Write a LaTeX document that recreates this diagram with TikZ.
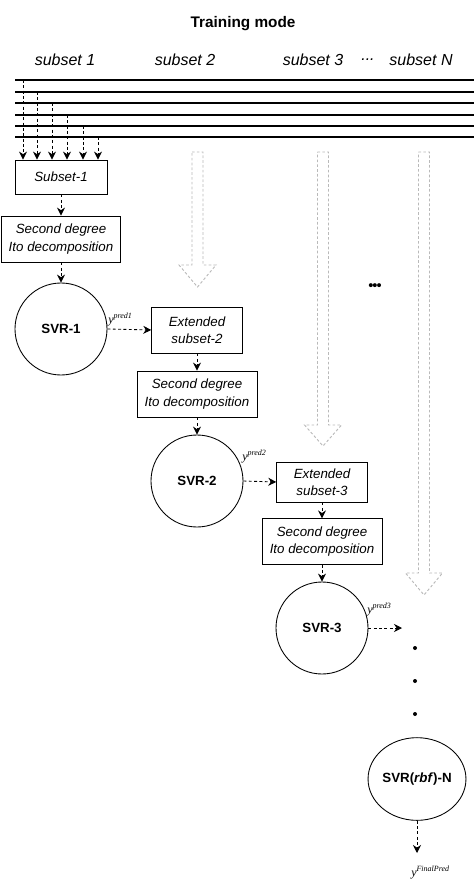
\documentclass[tikz,border=0pt]{standalone}
\usepackage{fontspec}
\setmainfont{Liberation Sans}
\newfontfamily\predfont{Liberation Serif}
\usetikzlibrary{arrows.meta,positioning,shapes.geometric}

\tikzset{
  databox/.style={draw, line width=0.65pt, align=center, inner sep=0pt,
    font=\fontsize{10}{13}\selectfont\itshape},
  svrnode/.style={draw, circle, line width=0.65pt, minimum size=69pt, inner sep=0pt,
    font=\fontsize{10}{12}\selectfont\bfseries},
  flow/.style={line width=0.65pt, dash pattern=on 2.2pt off 1.8pt,
    -{Stealth[length=6pt,width=6pt]}},
  hollow/.style={draw=gray!55, line width=0.7pt, dash pattern=on 2pt off 1.6pt},
  dataline/.style={line width=1.1pt},
  predlabel/.style={inner sep=0pt, font=\fontsize{9}{10}\selectfont\predfont\itshape},
  vdot/.style={circle, fill, inner sep=0pt, minimum size=3pt}
}
\newcommand{\hollowarrow}[4]{%
  \draw[hollow] (#1-5.5,#2) -- (#1+5.5,#2) -- (#1+5.5,#3) -- (#1+18.5,#3)
    -- (#1,#4) -- (#1-18.5,#3) -- (#1-5.5,#3) -- cycle;}

\begin{document}
\begin{tikzpicture}[x=0.75pt, y=-0.75pt]
  \useasboundingbox (0,0) rectangle (474,891);

  % header
  \node[font=\fontsize{11.5}{13}\selectfont\bfseries] (title) at (243,24) {Training mode};
  \node[font=\fontsize{12}{14}\selectfont\itshape] (sub1) at (65,60) {subset 1};
  \node[font=\fontsize{12}{14}\selectfont\itshape] (sub2) at (185,60) {subset 2};
  \node[font=\fontsize{12}{14}\selectfont\itshape] (sub3) at (313,60) {subset 3};
  \node[font=\fontsize{12}{14}\selectfont\itshape] (subdots) at (368,60) {...};
  \node[font=\fontsize{12}{14}\selectfont\itshape] (subN) at (421,60) {subset N};

  % first column
  \node[databox, minimum width=69pt, minimum height=25.5pt] (subset1) at (61,177) {Subset-1};
  \node[databox, minimum width=89pt, minimum height=34.5pt] (ito1) at (61,239) {Second degree\\Ito decomposition};
  \node[svrnode] (svr1) at (61,329) {SVR-1};

  % data lines and their taps
  \foreach \i/\yy/\xx in {1/80/23, 2/92/37, 3/103/52, 4/115/67, 5/126/83, 6/137/98} {
    \draw[dataline] (15,\yy) coordinate (ls\i) -- (474,\yy) coordinate (le\i);
    \coordinate (tap\i) at (\xx,\yy);
    \draw[flow] (tap\i) -- (tap\i |- subset1.north);
  }

  % hollow arrows
  \hollowarrow{197.5}{152}{265}{287}
  \hollowarrow{323}{152}{425}{446}
  \hollowarrow{424}{152}{573}{595}
  \node[font=\fontsize{11}{12}\selectfont] (midots) at (375,287) {\textbullet\kern-0.8pt\textbullet\kern-0.8pt\textbullet};

  % second column
  \node[databox, minimum width=68pt, minimum height=34.5pt] (ext2) at (197,330) {Extended\\subset-2};
  \node[databox, minimum width=90pt, minimum height=34.5pt] (ito2) at (197,394) {Second degree\\Ito decomposition};
  \node[svrnode] (svr2) at (197,481) {SVR-2};

  % third column
  \node[databox, minimum width=68pt, minimum height=30pt] (ext3) at (322,482) {Extended\\subset-3};
  \node[databox, minimum width=90pt, minimum height=34pt] (ito3) at (322,541.5) {Second degree\\Ito decomposition};
  \node[svrnode] (svr3) at (322,628) {SVR-3};
  \coordinate (out3) at (402,628);

  % last model
  \node[vdot] (dot1) at (415,648) {};
  \node[vdot] (dot2) at (415,681) {};
  \node[vdot] (dot3) at (415,714) {};
  \node[draw, ellipse, line width=0.65pt, minimum width=70pt, minimum height=62pt, inner sep=0pt,
    font=\fontsize{10}{12}\selectfont\bfseries] (svrN) at (417,779) {SVR(\textit{rbf})-N};
  \coordinate (outN) at (417,853);

  % connectors
  \draw[flow] (subset1) -- (ito1);
  \draw[flow] (ito1) -- (svr1);
  \draw[flow] (svr1.east) -- (ext2.west);
  \draw[flow] (ext2) -- (ito2);
  \draw[flow] (ito2) -- (svr2);
  \draw[flow] (svr2.east) -- (ext3.west);
  \draw[flow] (ext3) -- (ito3);
  \draw[flow] (ito3) -- (svr3);
  \draw[flow] (svr3.east) -- (out3);
  \draw[flow] (svrN.south) -- (outN);

  % predictions
  \node[predlabel, anchor=south west] (pred1) at (108,326) {y\textsuperscript{pred1}};
  \node[predlabel, anchor=south west] (pred2) at (242,463) {y\textsuperscript{pred2}};
  \node[predlabel, anchor=south west] (pred3) at (367,616) {y\textsuperscript{pred3}};
  \node[predlabel, anchor=south west] (predN) at (411,879) {y\textsuperscript{FinalPred}};
\end{tikzpicture}
\end{document}
